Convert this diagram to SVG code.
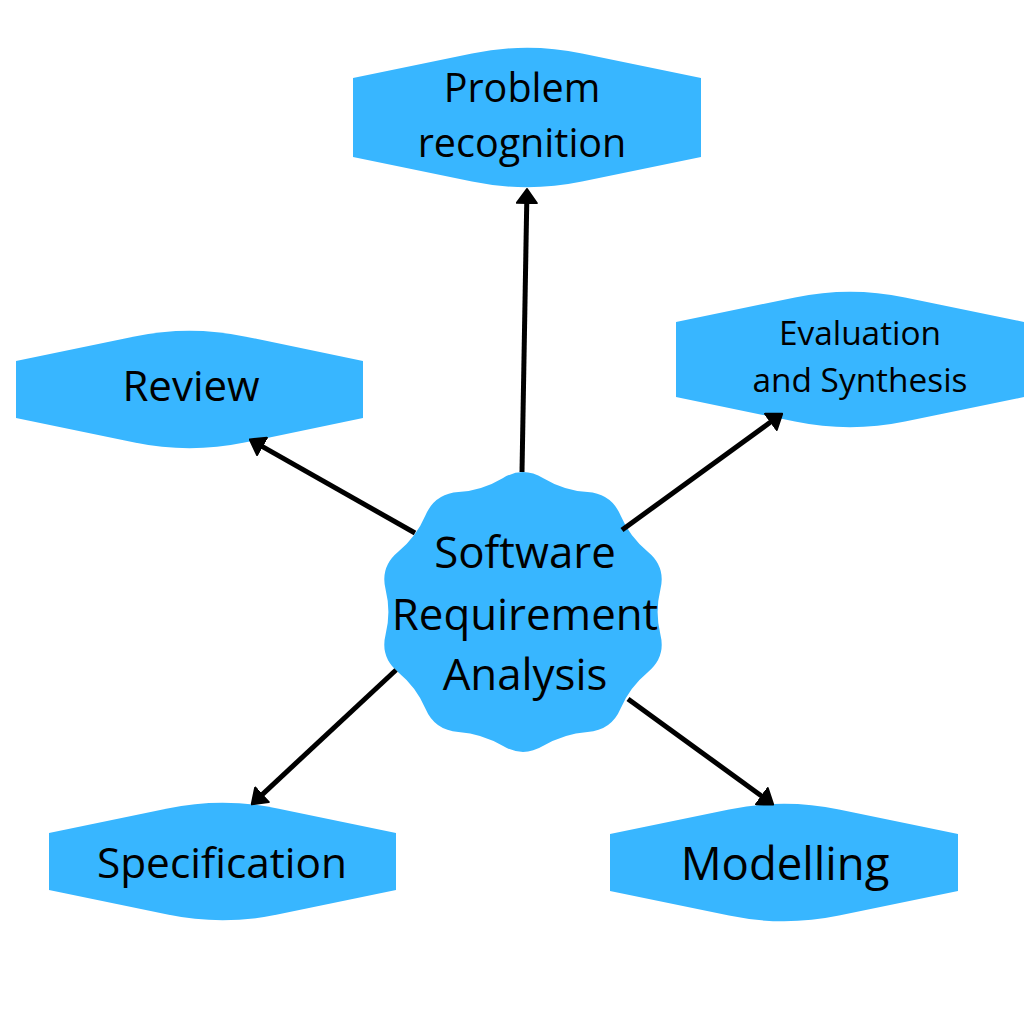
<svg xmlns="http://www.w3.org/2000/svg" width="1024" height="1024" viewBox="0 0 1024 1024">
  <style>
    .node { fill: #38B6FF; }
    .lbl { font-family: "Open Sans", "Noto Sans", "DejaVu Sans", sans-serif; fill: #000; text-anchor: middle; }
    .conn { stroke: #000; stroke-width: 5; fill: none; marker-end: url(#arrow); }
  </style>
  <defs>
    <marker id="arrow" viewBox="0 0 16 22" refX="4" refY="11" markerWidth="16" markerHeight="22" markerUnits="userSpaceOnUse" orient="auto">
      <path d="M1,1 L15,11 L1,21 Z" fill="#000" stroke="#000" stroke-width="2" stroke-linejoin="round"/>
    </marker>
  </defs>
  <rect width="1024" height="1024" fill="#fff"/>

  <g id="problem-recognition">
    <path class="node" d="M353,78 L472,53.4 Q527,42 582,53.4 L701,78 L701,157 L582,181.6 Q527,193 472,181.6 L353,157 Z"/>
    <text class="lbl" x="522" y="102" font-size="39.5">Problem</text>
    <text class="lbl" x="522" y="157" font-size="39.5">recognition</text>
  </g>

  <g id="review">
    <path class="node" d="M16,361 L134.5,336.4 Q189.5,325 244.5,336.4 L363,361 L363,418 L244.5,442.6 Q189.5,454 134.5,442.6 L16,418 Z"/>
    <text class="lbl" x="191" y="401" font-size="42">Review</text>
  </g>

  <g id="evaluation-synthesis">
    <path class="node" d="M676,322 L795,297.4 Q850,286 905,297.4 L1024,322 L1024,397 L905,421.6 Q850,433 795,421.6 L676,397 Z"/>
    <text class="lbl" x="860" y="345" font-size="33.4">Evaluation</text>
    <text class="lbl" x="860" y="392" font-size="33.4">and Synthesis</text>
  </g>

  <g id="specification">
    <path class="node" d="M49,833 L167.5,808.4 Q222.5,797 277.5,808.4 L396,833 L396,890 L277.5,914.6 Q222.5,926 167.5,914.6 L49,890 Z"/>
    <text class="lbl" x="222" y="878" font-size="42.4">Specification</text>
  </g>

  <g id="modelling">
    <path class="node" d="M610,834 L729,809.4 Q784,798 839,809.4 L958,834 L958,891 L839,915.6 Q784,927 729,915.6 L610,891 Z"/>
    <text class="lbl" x="785" y="880" font-size="45.5">Modelling</text>
  </g>

  <g id="software-requirement-analysis">
    <path class="node" d="M502.65,478.15 Q523,466 543.35,478.15 Q563.7,490.3 587.55,492.1 Q611.4,493.9 620.5,515.35 Q629.6,536.8 647.8,551.85 Q666,566.9 660.4,589.45 Q654.8,612 660.4,634.55 Q666,657.1 647.8,672.15 Q629.6,687.2 620.5,708.65 Q611.4,730.1 587.55,731.9 Q563.7,733.7 543.35,745.85 Q523,758 502.65,745.85 Q482.3,733.7 458.45,731.9 Q434.6,730.1 425.5,708.65 Q416.4,687.2 398.2,672.15 Q380,657.1 385.6,634.55 Q391.2,612 385.6,589.45 Q380,566.9 398.2,551.85 Q416.4,536.8 425.5,515.35 Q434.6,493.9 458.45,492.1 Q482.3,490.3 502.65,478.15 Z"/>
    <text class="lbl" x="525" y="568" font-size="43.8">Software</text>
    <text class="lbl" x="525" y="630" font-size="43.8">Requirement</text>
    <text class="lbl" x="525" y="690" font-size="43.8">Analysis</text>
  </g>

  <g id="connectors">
    <line class="conn" x1="522" y1="472" x2="526.8" y2="200"/>
    <line class="conn" x1="415" y1="533" x2="259.4" y2="444.9"/>
    <line class="conn" x1="622" y1="530" x2="773.3" y2="420.1"/>
    <line class="conn" x1="396" y1="670" x2="259.8" y2="796.8"/>
    <line class="conn" x1="628" y1="699" x2="764.3" y2="798"/>
  </g>
</svg>
